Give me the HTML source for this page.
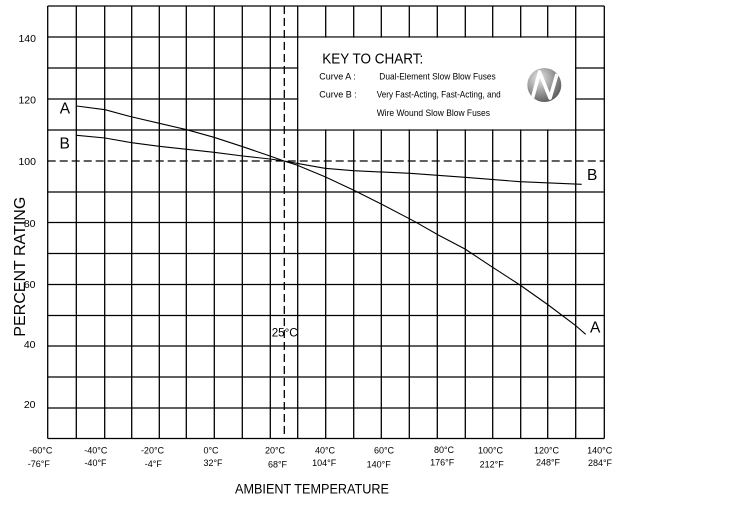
<!DOCTYPE html>
<html>
<head>
<meta charset="utf-8">
<style>
  html, body { margin: 0; padding: 0; background: #ffffff; }
  svg { display: block; }
  text { font-family: "Liberation Sans", Arial, sans-serif; fill: #000; }
</style>
</head>
<body>
<svg width="730" height="507" viewBox="0 0 730 507" xmlns="http://www.w3.org/2000/svg">
  <defs>
    <radialGradient id="lg" cx="35%" cy="30%" r="75%">
      <stop offset="0%" stop-color="#e6e6e6"/>
      <stop offset="55%" stop-color="#9a9a9a"/>
      <stop offset="100%" stop-color="#5a5a5a"/>
    </radialGradient>
    <clipPath id="lc"><circle cx="544.3" cy="85" r="17"/></clipPath>
  </defs>
  <rect x="0" y="0" width="730" height="507" fill="#fff"/>

  <!-- vertical grid lines -->
  <g stroke="#000" stroke-width="1.3" fill="none">
    <line x1="47.7" y1="6" x2="47.7" y2="438.5"/>
    <line x1="76.3" y1="6" x2="76.3" y2="438.5"/>
    <line x1="104.7" y1="6" x2="104.7" y2="438.5"/>
    <line x1="131.7" y1="6" x2="131.7" y2="438.5"/>
    <line x1="159.3" y1="6" x2="159.3" y2="438.5"/>
    <line x1="186.3" y1="6" x2="186.3" y2="438.5"/>
    <line x1="214.3" y1="6" x2="214.3" y2="438.5"/>
    <line x1="242.3" y1="6" x2="242.3" y2="438.5"/>
    <line x1="270.3" y1="6" x2="270.3" y2="438.5"/>
    <line x1="297.7" y1="6" x2="297.7" y2="438.5"/>
    <line x1="325.7" y1="6" x2="325.7" y2="438.5"/>
    <line x1="353.7" y1="6" x2="353.7" y2="438.5"/>
    <line x1="381.3" y1="6" x2="381.3" y2="438.5"/>
    <line x1="409.3" y1="6" x2="409.3" y2="438.5"/>
    <line x1="437.3" y1="6" x2="437.3" y2="438.5"/>
    <line x1="465.3" y1="6" x2="465.3" y2="438.5"/>
    <line x1="492.7" y1="6" x2="492.7" y2="438.5"/>
    <line x1="520.7" y1="6" x2="520.7" y2="438.5"/>
    <line x1="547.7" y1="6" x2="547.7" y2="438.5"/>
    <line x1="575.7" y1="6" x2="575.7" y2="438.5"/>
    <line x1="604.3" y1="6" x2="604.3" y2="438.5"/>
  </g>
  <!-- horizontal grid lines -->
  <g stroke="#000" stroke-width="1.3" fill="none">
    <line x1="47.7" y1="6" x2="604.3" y2="6"/>
    <line x1="47.7" y1="37" x2="604.3" y2="37"/>
    <line x1="47.7" y1="68" x2="604.3" y2="68"/>
    <line x1="47.7" y1="99" x2="604.3" y2="99"/>
    <line x1="47.7" y1="130" x2="604.3" y2="130"/>
    <line x1="47.7" y1="161" x2="604.3" y2="161" stroke-dasharray="8,4"/>
    <line x1="47.7" y1="192" x2="604.3" y2="192"/>
    <line x1="47.7" y1="222.5" x2="604.3" y2="222.5"/>
    <line x1="47.7" y1="253.5" x2="604.3" y2="253.5"/>
    <line x1="47.7" y1="284.5" x2="604.3" y2="284.5"/>
    <line x1="47.7" y1="315.5" x2="604.3" y2="315.5"/>
    <line x1="47.7" y1="346" x2="604.3" y2="346"/>
    <line x1="47.7" y1="377" x2="604.3" y2="377"/>
    <line x1="47.7" y1="408" x2="604.3" y2="408"/>
    <line x1="47.7" y1="438.5" x2="604.3" y2="438.5"/>
  </g>

  <!-- 25C dashed vertical -->
  <line x1="284.3" y1="6" x2="284.3" y2="438.5" stroke="#000" stroke-width="1.3" stroke-dasharray="8,4"/>

  <!-- legend box (white fill; grid lines form the border) -->
  <rect x="298.4" y="37.7" width="276.6" height="91.6" fill="#fff"/>
  <text x="322.3" y="63.3" font-size="14.5" textLength="101" lengthAdjust="spacingAndGlyphs">KEY TO CHART:</text>
  <text x="319.3" y="79.3" font-size="9.5" textLength="36.4" lengthAdjust="spacingAndGlyphs">Curve A :</text>
  <text x="379.3" y="79.3" font-size="9.5" textLength="116.4" lengthAdjust="spacingAndGlyphs">Dual-Element Slow Blow Fuses</text>
  <text x="319.3" y="97.5" font-size="9.5" textLength="37.4" lengthAdjust="spacingAndGlyphs">Curve B :</text>
  <text x="376.7" y="97.5" font-size="9.5" textLength="124" lengthAdjust="spacingAndGlyphs">Very Fast-Acting, Fast-Acting, and</text>
  <text x="376.7" y="116" font-size="9.5" textLength="113.3" lengthAdjust="spacingAndGlyphs">Wire Wound Slow Blow Fuses</text>

  <!-- logo -->
  <circle cx="544.3" cy="85" r="17" fill="url(#lg)"/>
  <g clip-path="url(#lc)">
    <polyline points="532,100 539.5,72 550,98 557,74" fill="none" stroke="#fff" stroke-width="3.6" stroke-linejoin="round"/>
  </g>

  <!-- Curve A -->
  <polyline fill="none" stroke="#000" stroke-width="1.1"
    points="76.7,106 105,109.7 131.7,116.9 159.3,123.3 186.7,129.7 214,137.3 242.7,146.7 270,156 284,161 296.7,165 325,176.7 353.3,190 381.7,204.3 415,221.7 438.3,235 465,249 491.7,266.7 520,285 548.3,305 575,325 585.7,334.3"/>
  <!-- Curve B -->
  <polyline fill="none" stroke="#000" stroke-width="1.1"
    points="76.7,135.3 105,138 131.7,142.7 159.3,146.3 186.7,149.3 214,152.3 242.7,156 270,159 284,161 296.7,163.3 325,168.3 353.3,170.7 410,173.3 465,177.3 520,181.7 581.7,184.3"/>

  <!-- curve labels -->
  <text x="59.8" y="113.5" font-size="15.5">A</text>
  <text x="59.5" y="148.3" font-size="15.5">B</text>
  <text x="587" y="180" font-size="15.5">B</text>
  <text x="590" y="332.3" font-size="15.5">A</text>

  <!-- 25C label -->
  <text x="271.7" y="336.5" font-size="12" textLength="26" lengthAdjust="spacingAndGlyphs">25°C</text>

  <!-- y axis labels -->
  <g font-size="10.5" text-anchor="end">
    <text x="36" y="41.8">140</text>
    <text x="36" y="103.6">120</text>
    <text x="36" y="164.8">100</text>
    <text x="35.5" y="227">80</text>
    <text x="35.5" y="288">60</text>
    <text x="35.5" y="348">40</text>
    <text x="35.5" y="408">20</text>
  </g>

  <!-- y axis title -->
  <text transform="translate(25,266.7) rotate(-90)" font-size="16" text-anchor="middle" textLength="140" lengthAdjust="spacingAndGlyphs">PERCENT RATING</text>

  <!-- x axis labels -->
  <g font-size="9" text-anchor="middle">
    <text x="40.8" y="453.5">-60°C</text>
    <text x="95.8" y="453.5">-40°C</text>
    <text x="152.5" y="453.5">-20°C</text>
    <text x="211" y="453.5">0°C</text>
    <text x="275" y="453.5">20°C</text>
    <text x="325" y="453.5">40°C</text>
    <text x="384" y="453.5">60°C</text>
    <text x="444" y="453">80°C</text>
    <text x="490.5" y="453.5">100°C</text>
    <text x="546.5" y="453.5">120°C</text>
    <text x="599.7" y="453.5">140°C</text>

    <text x="38.8" y="467">-76°F</text>
    <text x="95.5" y="466">-40°F</text>
    <text x="153.3" y="467">-4°F</text>
    <text x="213" y="466">32°F</text>
    <text x="277.5" y="467.5">68°F</text>
    <text x="324.2" y="466">104°F</text>
    <text x="378.7" y="467.5">140°F</text>
    <text x="442.2" y="465.5">176°F</text>
    <text x="491.7" y="467.5">212°F</text>
    <text x="548" y="465.5">248°F</text>
    <text x="600" y="466">284°F</text>
  </g>

  <!-- x axis title -->
  <text x="235" y="493.3" font-size="13.5" textLength="154" lengthAdjust="spacingAndGlyphs">AMBIENT TEMPERATURE</text>
</svg>
</body>
</html>
